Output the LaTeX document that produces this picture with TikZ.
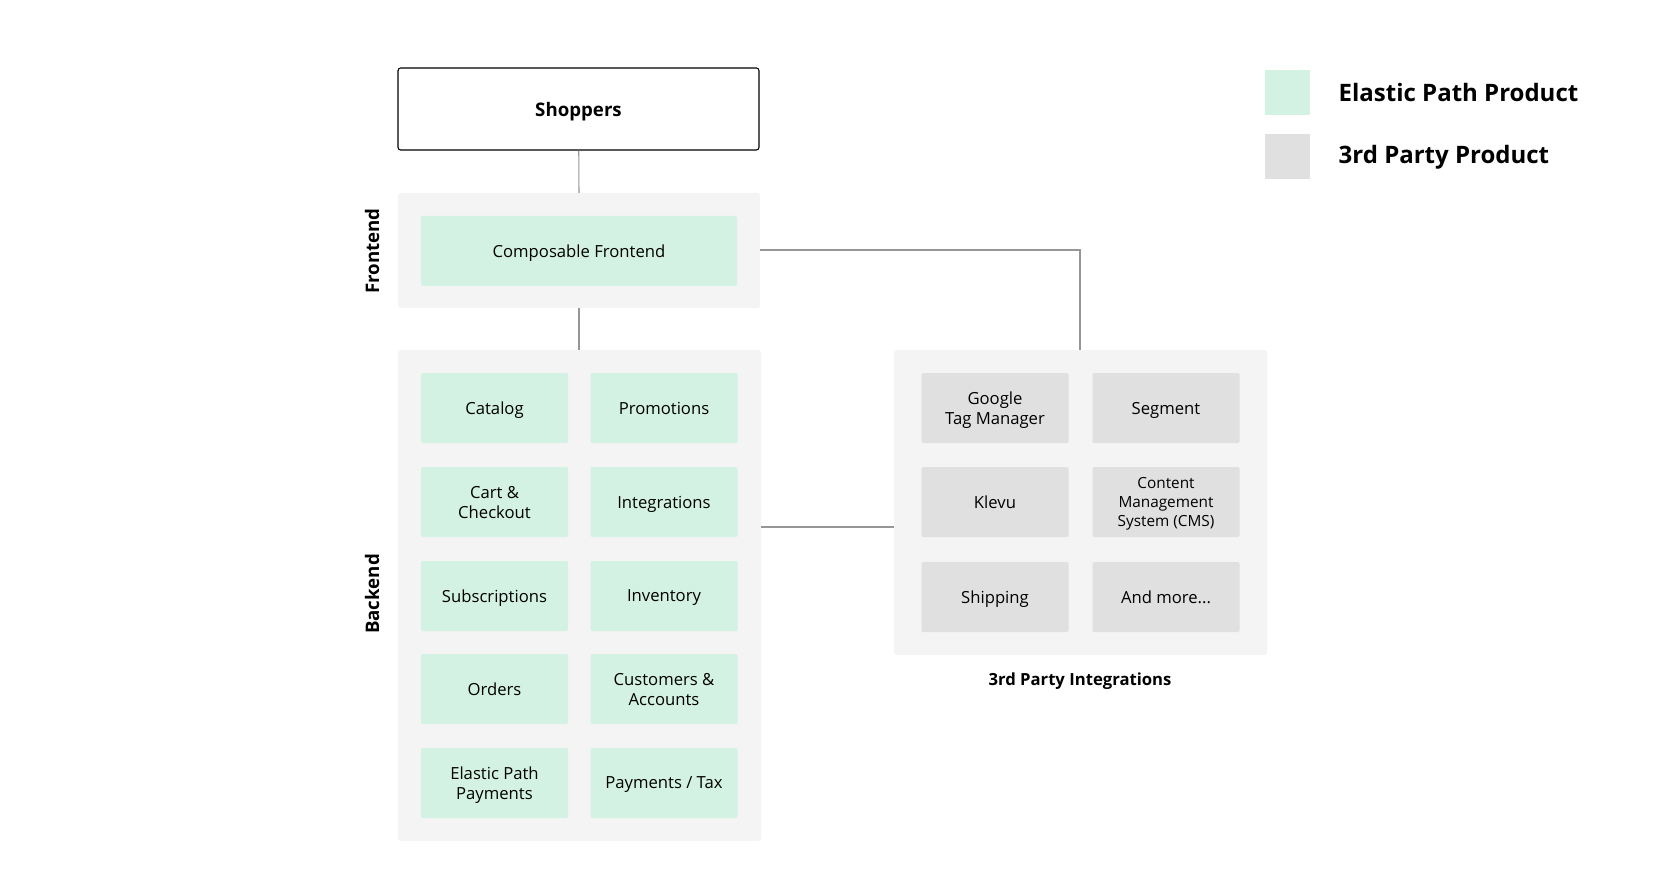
\documentclass[tikz,border=0pt]{standalone}
\usepackage{fontspec}
\setmainfont{Open Sans}
\definecolor{epgreen}{RGB}{211,242,227}
\definecolor{tpgrey}{RGB}{224,224,224}
\definecolor{panel}{RGB}{244,244,244}
\definecolor{wire}{RGB}{150,150,150}
\begin{document}
\begin{tikzpicture}[x=0.75pt,y=0.75pt,yscale=-1,xscale=1,
  panel/.style={fill=panel,rounded corners=2pt},
  ep/.style={fill=epgreen,rounded corners=1pt,minimum width=110.25pt,minimum height=52.5pt,inner sep=0pt,align=center,text depth=0pt,font=\fontsize{12.5}{15}\selectfont},
  tp/.style={ep,fill=tpgrey},
  wire/.style={draw=wire,line width=0.8pt},
  side/.style={rotate=90,font=\fontsize{14}{16}\selectfont\bfseries}]
\useasboundingbox (0,0) rectangle (1672,888);
% shoppers
\node (shop) [draw,rounded corners=2pt,line width=0.8pt,minimum width=270.75pt,minimum height=61.5pt,text depth=0pt,font=\fontsize{14}{16}\selectfont\bfseries] at (578.5,109) {Shoppers};
% panels
\path[panel] (398,193) rectangle (760,308);
\coordinate (feT) at (579,193);
\coordinate (feB) at (579,308);
\coordinate (feR) at (760,250);
\path[panel] (398,350) rectangle (761,841);
\coordinate (beT) at (579,350);
\coordinate (beR) at (761,527);
\path[panel] (894,350) rectangle (1267,655);
\coordinate (tpT) at (1080,350);
\coordinate (tpL) at (894,527);
% frontend
\node (cf) [ep,minimum width=237pt] at (579,251) {Composable Frontend};
\node [side] at (372,251) {Frontend};
\node [side] at (372,594) {Backend};
% backend
\node (cat) [ep] at (494.5,408) {Catalog};
\node (promo) [ep] at (664,408) {Promotions};
\node (cart) [ep] at (494.5,502) {Cart \&\\Checkout};
\node (integ) [ep] at (664,502) {Integrations};
\node (subs) [ep] at (494.5,596) {Subscriptions};
\node (inv) [ep] at (664,596) {Inventory};
\node (ord) [ep] at (494.5,689) {Orders};
\node (cust) [ep] at (664,689) {Customers \&\\Accounts};
\node (pay) [ep] at (494.5,783) {Elastic Path\\Payments};
\node (tax) [ep] at (664,783) {Payments / Tax};
% 3rd party
\node (gtm) [tp] at (995,408) {Google\\Tag Manager};
\node (seg) [tp] at (1166,408) {Segment};
\node (klevu) [tp] at (995,502) {Klevu};
\node (cms) [tp,font=\fontsize{11.5}{14}\selectfont] at (1166,502) {Content\\Management\\System (CMS)};
\node (ship) [tp] at (995,597) {Shipping};
\node (more) [tp] at (1166,597) {And more...};
\node [font=\fontsize{12.5}{15}\selectfont\bfseries] at (1080,681) {3rd Party Integrations};
% connectors
\draw[wire] (shop) -- (feT);
\draw[wire] (feB) -- (beT);
\draw[wire] (feR) -| (tpT);
\draw[wire] (beR) -- (tpL);
% legend
\node (lgA) [fill=epgreen,minimum size=33.75pt,inner sep=0pt] at (1287.5,92.5) {};
\node (lgB) [fill=tpgrey,minimum size=33.75pt,inner sep=0pt] at (1287.5,156.5) {};
\node [anchor=west,font=\fontsize{18}{20}\selectfont\bfseries] at (1334,93) {Elastic Path Product};
\node [anchor=west,font=\fontsize{18}{20}\selectfont\bfseries] at (1334,157) {3rd Party Product};
\end{tikzpicture}
\end{document}
